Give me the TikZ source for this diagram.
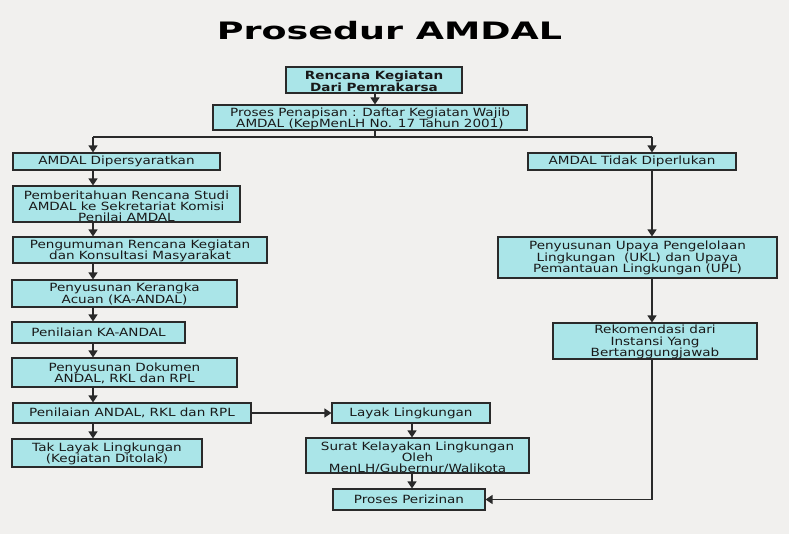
\documentclass[tikz,border=0pt]{standalone}
\usepackage{fontspec}
\setmainfont[FakeStretch=1.2]{DejaVu Sans}
\newfontfamily\titlefont[FakeStretch=1.52]{DejaVu Sans}
\usetikzlibrary{arrows.meta}
\definecolor{bg}{HTML}{F1F0EE}
\definecolor{boxfill}{HTML}{AAE5E8}
\definecolor{edge}{HTML}{2A2A2A}
\tikzset{
  box/.style={draw=edge, line width=1.1pt, fill=boxfill, inner sep=0pt},
  lab/.style={align=center, inner sep=0pt,
    font=\fontsize{11.3}{11.2}\selectfont, text=black!90},
  two/.style={lab, yshift=-0.5pt},
  one/.style={lab},
  conn/.style={draw=edge, line width=1.3pt},
  arr/.style={conn, -{Triangle[width=9pt,length=7pt]}},
}
\begin{document}
\begin{tikzpicture}[x=1pt,y=-1pt]
\fill[bg] (0,0) rectangle (789,534);
\useasboundingbox (0,0) rectangle (789,534);
\node[font=\titlefont\fontsize{24}{28}\selectfont\bfseries, text=black] (title) at (389.5,30.5) {Prosedur AMDAL};
% boxes
\node[box, minimum width=176pt, minimum height=26pt, label={[lab, font=\fontsize{11.3}{10.8}\selectfont\bfseries, yshift=-1pt]center:{Rencana Kegiatan\\Dari Pemrakarsa}}] (r1) at (374,80) {};
\node[box, minimum width=314pt, minimum height=25pt, label={[lab, yshift=-1.5pt]center:{Proses Penapisan : Daftar Kegiatan Wajib\\AMDAL (KepMenLH No. 17 Tahun 2001)}}] (r2) at (370,117.5) {};
\node[box, minimum width=207pt, minimum height=17pt, label={[one]center:{AMDAL Dipersyaratkan}}] (a1) at (116.5,161.5) {};
\node[box, minimum width=227pt, minimum height=36pt, label={[lab, yshift=-2.5pt]center:{Pemberitahuan Rencana Studi\\AMDAL ke Sekretariat Komisi\\Penilai AMDAL}}] (a2) at (126.5,204) {};
\node[box, minimum width=254pt, minimum height=26pt, label={[two]center:{Pengumuman Rencana Kegiatan\\dan Konsultasi Masyarakat}}] (a3) at (140,250) {};
\node[box, minimum width=225pt, minimum height=27pt, label={[two]center:{Penyusunan Kerangka\\Acuan (KA-ANDAL)}}] (a4) at (124.5,293.5) {};
\node[box, minimum width=173pt, minimum height=21pt, label={[one]center:{Penilaian KA-ANDAL}}] (a5) at (98.5,332.5) {};
\node[box, minimum width=225pt, minimum height=29pt, label={[two]center:{Penyusunan Dokumen\\ANDAL, RKL dan RPL}}] (a6) at (124.5,372.5) {};
\node[box, minimum width=238pt, minimum height=20pt, label={[one]center:{Penilaian ANDAL, RKL dan RPL}}] (a7) at (132,413) {};
\node[box, minimum width=190pt, minimum height=28pt, label={[two]center:{Tak Layak Lingkungan\\(Kegiatan Ditolak)}}] (a8) at (107,453) {};
\node[box, minimum width=158pt, minimum height=20pt, label={[one]center:{Layak Lingkungan}}] (l1) at (411,413) {};
\node[box, minimum width=223pt, minimum height=35pt, label={[lab, yshift=-2.5pt]center:{Surat Kelayakan Lingkungan\\Oleh\\MenLH/Gubernur/Walikota}}] (l2) at (417.5,455.5) {};
\node[box, minimum width=152pt, minimum height=21pt, label={[one]center:{Proses Perizinan}}] (l3) at (409,499.5) {};
\node[box, minimum width=208pt, minimum height=17pt, label={[one]center:{AMDAL Tidak Diperlukan}}] (b1) at (632,161.5) {};
\node[box, minimum width=279pt, minimum height=41pt, label={[lab, yshift=-0.5pt]center:{Penyusunan Upaya Pengelolaan\\Lingkungan\ \ (UKL) dan Upaya\\Pemantauan Lingkungan (UPL)}}] (b2) at (637.5,257.5) {};
\node[box, minimum width=204pt, minimum height=36pt, label={[lab, yshift=-1pt]center:{Rekomendasi dari\\Instansi Yang\\Bertanggungjawab}}] (b3) at (655,341) {};
% guide coordinates
\coordinate (tx) at (375,137);
\coordinate (lx) at (93,137);
\coordinate (rx) at (652,137);
\coordinate (mx) at (412,0);
% connectors
\draw[arr] (r1.south -| tx) -- (r2.north -| tx);
\draw[conn] (r2.south -| tx) -- (tx);
\draw[conn] (lx) -- (rx);
\draw[arr] (lx) -- (a1.north -| lx);
\draw[arr] (rx) -- (b1.north -| rx);
\draw[arr] (a1.south -| lx) -- (a2.north -| lx);
\draw[arr] (a2.south -| lx) -- (a3.north -| lx);
\draw[arr] (a3.south -| lx) -- (a4.north -| lx);
\draw[arr] (a4.south -| lx) -- (a5.north -| lx);
\draw[arr] (a5.south -| lx) -- (a6.north -| lx);
\draw[arr] (a6.south -| lx) -- (a7.north -| lx);
\draw[arr] (a7.south -| lx) -- (a8.north -| lx);
\draw[arr] (a7.east) -- (l1.west);
\draw[arr] (l1.south -| mx) -- (l2.north -| mx);
\draw[arr] (l2.south -| mx) -- (l3.north -| mx);
\draw[arr] (b1.south -| rx) -- (b2.north -| rx);
\draw[arr] (b2.south -| rx) -- (b3.north -| rx);
\draw[arr] (b3.south -| rx) -- (rx |- l3.east) -- (l3.east);
\end{tikzpicture}
\end{document}
